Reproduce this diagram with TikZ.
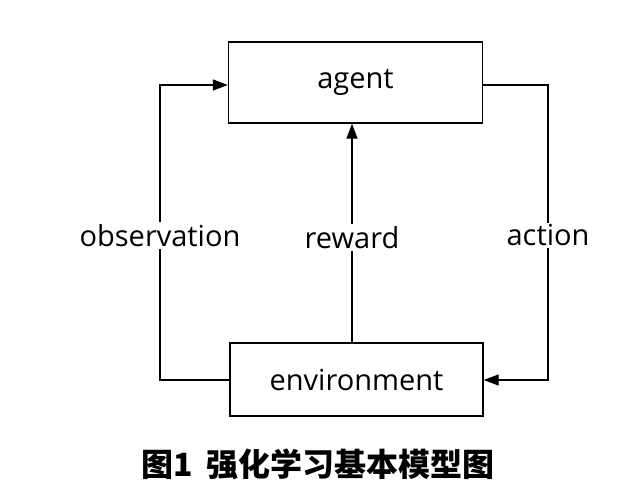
\documentclass[tikz,border=0pt]{standalone}
\usepackage{fontspec}
\setmainfont{Open Sans}
\newfontfamily\cjk{Noto Sans CJK SC}
\usetikzlibrary{arrows.meta}
\begin{document}
\begin{tikzpicture}[x=1pt,y=-1pt,
  boxst/.style={draw,line width=1.4pt,minimum width=254pt,inner sep=0pt,font=\fontsize{29}{32}\selectfont},
  conn/.style={line width=1.4pt,-{Triangle[length=15pt,width=11pt]}},
  lab/.style={fill=white,inner sep=2pt,font=\fontsize{29}{32}\selectfont}]
\useasboundingbox (0,0) rectangle (631,493);
\node[boxst,minimum height=81pt] (agent) at (355.5,82.5) {agent};
\node[boxst,minimum height=73pt,minimum width=253pt] (env) at (356.5,379.5) {environment};
\coordinate (ol) at (160,380);
\coordinate (ou) at (160,85);
\coordinate (ar) at (548,85);
\coordinate (ad) at (548,380);
\draw[conn] (env.west|-ol) -- (ol) -- node[lab,pos=0.49]{observation} (ou) -- (agent.west|-ou);
\draw[conn] (agent.east|-ar) -- (ar) -- node[lab,pos=0.51]{action} (ad) -- (env.east|-ad);
\draw[conn] (env.north-|352,0) -- node[lab,pos=0.48]{reward} (agent.south-|352,0);
\node[font=\cjk\bfseries\fontsize{32}{36}\selectfont] (cap) at (318,464) {图1\, 强化学习基本模型图};
\end{tikzpicture}
\end{document}
